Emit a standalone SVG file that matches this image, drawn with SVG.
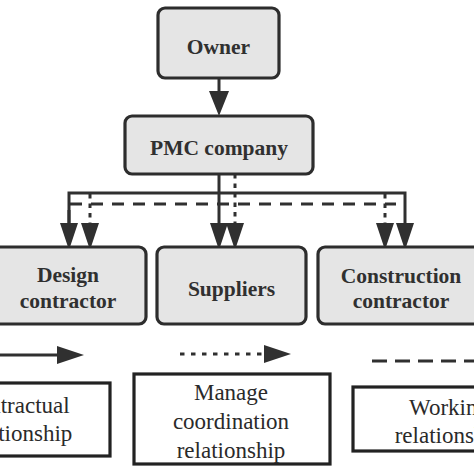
<svg xmlns="http://www.w3.org/2000/svg" width="474" height="474" viewBox="0 0 474 474">
<style>
.node{fill:#e5e5e5;stroke:#2d2d2d;stroke-width:3.2}
.nt{font-family:"Liberation Serif","Times New Roman",serif;font-weight:bold;font-size:21.5px;fill:#303030;text-anchor:middle}
.lt{font-family:"Liberation Serif","Times New Roman",serif;font-size:23px;fill:#2a2a2a;text-anchor:middle}
.lbox{fill:#fff;stroke:#222;stroke-width:3.2}
.c{fill:none;stroke:#303030;stroke-width:3}
.dot{stroke-dasharray:4.5 5}
.dash{stroke-dasharray:12 9}
.ldot{stroke-dasharray:4.5 6.5}
.ldash{stroke-dasharray:15 8}
</style>
<defs>
<marker id="ah" markerUnits="userSpaceOnUse" markerWidth="27" markerHeight="18" refX="0" refY="9" orient="auto" viewBox="0 0 27 18">
<path d="M0,0 L27,9 L0,18 z" fill="#303030"/>
</marker>
<marker id="ah2" markerUnits="userSpaceOnUse" markerWidth="25" markerHeight="20" refX="0" refY="10" orient="auto" viewBox="0 0 25 20">
<path d="M0,0 L25,10 L0,20 z" fill="#303030"/>
</marker>
</defs>
<rect width="474" height="474" fill="#fff"/>
<g id="connectors">
<line class="c" x1="219" y1="78" x2="219" y2="91" marker-end="url(#ah2)"/>
<line class="c" x1="219" y1="174" x2="219" y2="223" marker-end="url(#ah)"/>
<polyline class="c" points="69,223 69,193 405,193 405,223" marker-end="url(#ah)"/>
<line class="c" x1="69" y1="210" x2="69" y2="223" marker-end="url(#ah)"/>
<line class="c dot" x1="235" y1="174" x2="235" y2="223" marker-end="url(#ah)"/>
<line class="c dot" x1="90" y1="194" x2="90" y2="223" marker-end="url(#ah)"/>
<line class="c dot" x1="385" y1="194" x2="385" y2="223" marker-end="url(#ah)"/>
<line class="c dash" x1="70" y1="204" x2="396" y2="204"/>
</g>
<g id="owner"><rect class="node" x="158" y="8" width="121" height="70" rx="7"/><text class="nt" x="218.5" y="54">Owner</text></g>
<g id="pmc"><rect class="node" x="125" y="116" width="188" height="58" rx="7"/><text class="nt" x="219" y="155">PMC company</text></g>
<g id="design"><rect class="node" x="-10" y="247" width="156" height="77" rx="7"/><text class="nt" x="68" y="282">Design</text><text class="nt" x="68" y="308">contractor</text></g>
<g id="suppliers"><rect class="node" x="157" y="247" width="149" height="77" rx="7"/><text class="nt" x="231.5" y="296">Suppliers</text></g>
<g id="construction"><rect class="node" x="318" y="247" width="166" height="77" rx="7"/><text class="nt" x="401" y="283">Construction</text><text class="nt" x="401" y="308">contractor</text></g>
<g id="legend">
<line class="c" x1="-2" y1="355" x2="57" y2="355" marker-end="url(#ah)"/>
<line class="c ldot" x1="180" y1="354" x2="264" y2="354" marker-end="url(#ah)"/>
<line class="c ldash" x1="372" y1="361" x2="480" y2="361"/>
<rect class="lbox" x="-80" y="383" width="190" height="73"/>
<text class="lt" x="16" y="413">Contractual</text><text class="lt" x="18" y="441">relationship</text>
<rect class="lbox" x="134" y="374" width="196" height="90"/>
<text class="lt" x="231" y="400">Manage</text><text class="lt" x="231" y="429">coordination</text><text class="lt" x="231" y="458">relationship</text>
<rect class="lbox" x="353" y="387" width="190" height="64"/>
<text class="lt" x="449" y="415">Working</text><text class="lt" x="449" y="443">relationship</text>
</g>
</svg>
